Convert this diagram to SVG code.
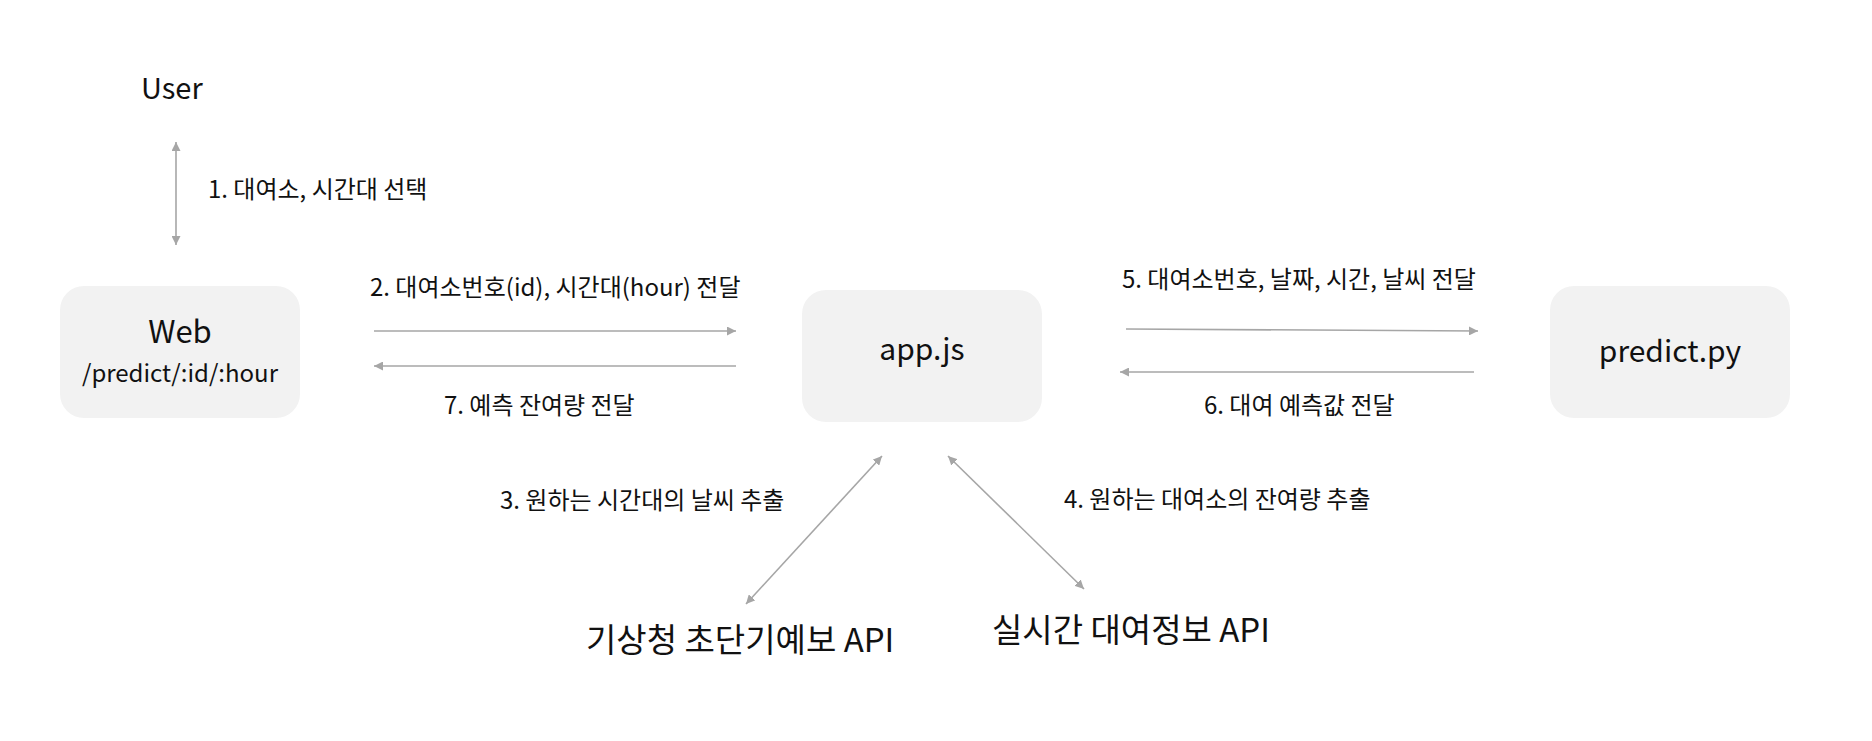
<svg xmlns="http://www.w3.org/2000/svg" width="1872" height="741" viewBox="0 0 1872 741">
<style>
text{font-family:"Noto Sans CJK KR","Noto Sans",sans-serif;fill:#111;font-weight:400}
.lbl{font-size:24px}
.box{fill:#f2f2f2}
.ln{stroke:#a6a6a6;stroke-width:1.6;fill:none;marker-end:url(#ah)}
.dbl{marker-start:url(#ahs)}
</style>
<defs>
<marker id="ah" viewBox="0 0 10 10" refX="10" refY="5" markerWidth="9" markerHeight="9" markerUnits="userSpaceOnUse" orient="auto"><path d="M0,0L10,5L0,10z" fill="#a6a6a6"/></marker>
<marker id="ahs" viewBox="0 0 10 10" refX="0" refY="5" markerWidth="9" markerHeight="9" markerUnits="userSpaceOnUse" orient="auto"><path d="M10,0L0,5L10,10z" fill="#a6a6a6"/></marker>
</defs>
<rect width="1872" height="741" fill="#fff"/>
<g id="user"><text x="141" y="99" font-size="29">User</text></g>
<g id="web"><rect class="box" x="60" y="286" width="240" height="132" rx="24"/>
<text x="180" y="343" font-size="31" text-anchor="middle">Web</text>
<text x="180" y="382" font-size="24" text-anchor="middle">/predict/:id/:hour</text></g>
<g id="app"><rect class="box" x="802" y="290" width="240" height="132" rx="24"/>
<text x="922" y="360" font-size="30" text-anchor="middle">app.js</text></g>
<g id="predict"><rect class="box" x="1550" y="286" width="240" height="132" rx="24"/>
<text x="1670" y="362" font-size="30" text-anchor="middle">predict.py</text></g>
<g id="kma"><text x="586" y="652" font-size="33">기상청 초단기예보 API</text></g>
<g id="rent"><text x="992" y="642" font-size="33">실시간 대여정보 API</text></g>
<g id="connectors">
<line class="ln dbl" x1="176" y1="142" x2="176" y2="245"/>
<line class="ln" x1="374" y1="331" x2="736" y2="331"/>
<line class="ln" x1="736" y1="366" x2="374" y2="366"/>
<line class="ln" x1="1126" y1="329" x2="1478" y2="331"/>
<line class="ln" x1="1474" y1="372" x2="1120" y2="372"/>
<line class="ln dbl" x1="882" y1="456" x2="746" y2="604"/>
<line class="ln dbl" x1="948" y1="456" x2="1084" y2="589"/>
</g>
<g id="labels">
<text class="lbl" x="370" y="296">2. 대여소번호(id), 시간대(hour) 전달</text>
<text class="lbl" x="208" y="198">1. 대여소, 시간대 선택</text>
<text class="lbl" x="444" y="414">7. 예측 잔여량 전달</text>
<text class="lbl" x="1122" y="288">5. 대여소번호, 날짜, 시간, 날씨 전달</text>
<text class="lbl" x="1204" y="414">6. 대여 예측값 전달</text>
<text class="lbl" x="500" y="509">3. 원하는 시간대의 날씨 추출</text>
<text class="lbl" x="1064" y="508">4. 원하는 대여소의 잔여량 추출</text>
</g>
</svg>
